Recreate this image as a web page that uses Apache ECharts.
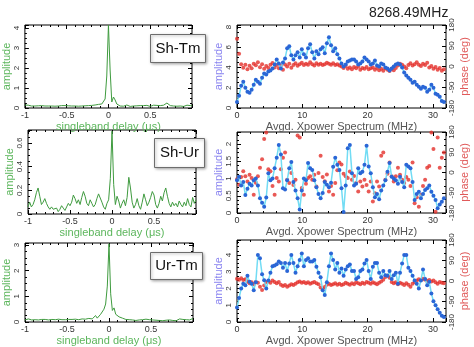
<!DOCTYPE html>
<html><head><meta charset="utf-8">
<script src="https://cdn.jsdelivr.net/npm/echarts@6/dist/echarts.min.js"></script>
<style>html,body{margin:0;padding:0;background:#fff}#c{width:474px;height:347px}</style>
</head><body><div id="c"></div>
<script>
// ---------------- DATA ----------------
const title = '8268.49MHz';
const baselines = ['Sh-Tm', 'Sh-Ur', 'Ur-Tm'];
// singleband delay sampling (µs)
const delayStart = -1, delayStep = 0.02;
const delayAmpShTm = [
0.15,0.18,0.14,0.12,0.10,0.13,0.10,0.08,0.11,0.09,
0.12,0.08,0.10,0.13,0.10,0.07,0.10,0.12,0.09,0.14,
0.10,0.08,0.12,0.16,0.12,0.09,0.11,0.08,0.10,0.07,
0.10,0.12,0.09,0.13,0.10,0.14,0.11,0.15,0.12,0.09,
0.13,0.10,0.15,0.12,0.18,0.14,0.20,0.30,0.45,1.60,
4.15,1.90,0.30,0.55,0.40,0.20,0.15,0.10,0.13,0.09,
0.12,0.15,0.10,0.08,0.12,0.10,0.14,0.11,0.08,0.12,
0.16,0.12,0.09,0.13,0.10,0.08,0.11,0.14,0.10,0.13,
0.09,0.12,0.10,0.14,0.18,0.25,0.20,0.12,0.16,0.10,
0.12,0.09,0.13,0.10,0.12,0.08,0.11,0.14,0.10,0.12,
0.13];
const delayAmpShUr = [
0.06,0.10,0.06,0.08,0.12,0.18,0.22,0.15,0.08,0.10,
0.13,0.09,0.06,0.04,0.06,0.04,0.03,0.05,0.02,0.04,
0.07,0.05,0.03,0.06,0.09,0.07,0.10,0.16,0.13,0.09,
0.12,0.08,0.14,0.19,0.15,0.09,0.07,0.12,0.09,0.06,
0.08,0.13,0.17,0.16,0.10,0.06,0.04,0.09,0.12,0.30,
0.70,0.25,0.08,0.15,0.11,0.05,0.09,0.12,0.07,0.14,
0.31,0.22,0.10,0.05,0.08,0.13,0.07,0.04,0.10,0.17,
0.12,0.07,0.10,0.14,0.19,0.16,0.08,0.05,0.09,0.15,
0.11,0.18,0.22,0.15,0.09,0.06,0.10,0.07,0.09,0.06,
0.11,0.08,0.06,0.10,0.07,0.13,0.08,0.06,0.14,0.09,
0.12];
const delayAmpUrTm = [
0.08,0.05,0.12,0.14,0.08,0.04,0.09,0.13,0.08,0.05,
0.10,0.15,0.10,0.05,0.08,0.14,0.10,0.06,0.09,0.15,
0.11,0.06,0.09,0.14,0.09,0.05,0.10,0.16,0.10,0.06,
0.11,0.15,0.09,0.07,0.12,0.17,0.11,0.08,0.14,0.20,
0.12,0.17,0.25,0.15,0.22,0.30,0.35,0.50,0.70,1.40,
3.05,1.10,0.45,0.55,0.30,0.35,0.20,0.25,0.15,0.18,
0.10,0.14,0.09,0.12,0.08,0.11,0.06,0.10,0.08,0.05,
0.09,0.07,0.11,0.06,0.09,0.05,0.08,0.12,0.07,0.10,
0.06,0.09,0.05,0.10,0.07,0.04,0.08,0.11,0.06,0.09,
0.05,0.08,0.12,0.07,0.10,0.06,0.09,0.13,0.08,0.11,
0.14];
// averaged cross-power spectrum sampling (MHz)
const freqStart = 0, freqStep = 0.32;
const specAmpShTm = [
0.6,1.2,2.2,2.6,2.0,1.6,1.5,1.8,2.3,2.8,
2.6,2.4,3.0,3.4,3.3,3.6,3.7,3.9,4.3,4.8,
4.4,3.9,4.5,4.9,5.9,6.1,5.2,4.8,5.2,5.5,
5.0,5.8,5.3,5.0,5.9,6.3,5.5,4.9,5.6,5.3,
5.8,6.0,5.4,6.4,7.0,6.2,5.6,5.9,5.3,4.9,
4.4,4.1,4.3,4.6,4.7,4.8,4.8,4.6,4.3,4.4,
4.6,5.0,4.8,4.6,4.3,4.4,4.7,4.2,4.1,4.4,
4.3,4.0,3.9,3.7,3.9,4.1,4.3,4.4,4.3,4.0,
3.5,3.2,3.0,2.8,2.5,2.6,2.3,2.1,1.9,2.1,
2.0,1.6,1.8,2.3,2.0,1.4,1.3,1.1,0.7,0.6];
const specPhaseShTm = [
120,55,10,-5,8,-12,3,-8,12,5,
18,-3,10,-10,2,-6,8,15,-4,6,
-8,4,-14,9,0,12,-5,7,14,3,
10,16,6,12,8,18,10,4,14,8,
12,6,10,16,12,8,14,6,10,4,
0,-6,2,-10,-4,-12,-2,-8,0,-14,
-6,-10,-2,-12,-8,-4,-14,-6,-16,-10,
-18,-8,-14,-20,-10,-16,-6,4,12,8,
0,-8,6,14,4,10,18,8,2,12,
6,16,-4,2,-10,-2,-14,-6,-18,-12];
const specAmpShUr = [
0.95,1.05,0.80,0.90,0.52,0.70,0.85,0.80,0.95,1.00,
0.80,0.43,0.30,0.18,0.45,1.15,0.95,1.00,1.30,1.60,
1.97,1.70,0.72,0.68,0.95,1.30,1.48,0.90,0.65,0.43,
0.10,0.65,1.00,0.95,1.45,1.30,1.25,0.95,0.75,0.55,
0.43,0.58,0.90,0.82,0.75,0.88,1.34,1.60,1.40,1.25,
0.72,0.03,0.80,1.88,1.97,1.15,0.80,0.85,1.30,1.15,
1.20,1.40,1.95,1.35,1.15,0.75,0.46,0.55,0.40,0.65,
0.80,0.95,1.20,1.45,1.05,1.00,0.95,0.85,1.05,0.90,
0.75,1.40,1.35,1.30,0.90,0.38,0.55,0.62,0.43,0.55,
0.67,0.72,0.80,0.62,0.50,0.38,0.14,0.25,0.33,0.43];
const specPhaseShUr = [
-30,-54,-20,6,-17,-40,-10,-24,-99,-45,
-17,21,59,149,178,14,6,-60,-99,-24,
-40,14,66,89,-32,-47,-2,-55,-32,164,
156,-69,-99,-50,-24,-17,-32,-10,-62,-2,
74,-20,-39,-9,-84,-60,-99,-47,10,44,
36,-5,-17,-24,5,-32,-15,-47,-84,-40,
-62,-32,-55,-84,-40,-129,-92,-40,-62,74,
89,-32,-5,44,-17,-40,-17,21,-10,-32,
-47,-20,-32,-60,44,-137,-110,-152,-99,-60,
-32,21,29,178,104,-174,156,21,66,89];
const specAmpUrTm = [
0.86,1.43,2.00,2.29,2.20,2.76,2.40,2.29,1.90,2.38,
4.00,3.81,2.86,2.50,2.00,2.48,2.95,3.33,3.37,3.45,
3.62,3.52,3.24,3.52,3.05,3.50,4.00,3.52,2.95,3.33,
3.70,4.10,3.33,3.71,3.81,3.62,3.62,3.71,3.30,2.95,
2.67,1.90,1.62,2.38,3.33,4.10,3.71,3.14,3.52,2.95,
3.20,2.76,3.14,3.33,3.43,3.05,3.05,2.57,2.67,3.05,
3.14,3.50,3.71,3.05,2.57,3.30,3.52,3.52,2.95,2.67,
3.05,2.80,2.76,3.05,2.57,2.80,2.95,2.29,2.95,3.50,
4.00,4.00,3.24,3.05,2.76,2.48,2.29,2.00,2.48,3.14,
2.57,2.20,2.40,1.71,1.24,1.00,0.76,0.55,0.38,0.30];
const specPhaseUrTm = [
10,6,12,4,8,-2,-10,-6,-14,-4,
-8,-25,-39,-20,-6,-2,-8,2,-4,-10,
-4,-16,-22,-18,-25,-20,-14,-18,-12,-6,
-2,-8,-4,-10,-6,-12,-8,-4,-10,-14,
-28,-34,-26,-16,-12,-18,-14,-10,-16,-12,
-18,-14,-8,-12,-16,-10,-14,-6,-10,-14,
-8,-12,-4,-8,-12,-6,-10,-14,-8,-2,
6,18,24,14,-4,-10,-6,-14,-8,-12,
-18,-10,-16,-25,-12,-4,2,8,4,10,
6,0,4,-2,2,-6,-12,-4,-8,-10];
// axis ranges / ticks
const delayAmpMax = [4.15, 0.71, 3.08];
const delayAmpInterval = [1, 0.2, 1];
const specAmpMax = [8.2, 2.35, 4.9];
const specAmpInterval = [2, 0.5, 1];
const phaseMin = -180, phaseMax = 180, phaseInterval = 90;
const freqMin = 0, freqMax = 32, freqInterval = 10;

// ---------------- BUILD ----------------
const delaySets = [delayAmpShTm, delayAmpShUr, delayAmpUrTm];
const specAmpSets = [specAmpShTm, specAmpShUr, specAmpUrTm];
const specPhaseSets = [specPhaseShTm, specPhaseShUr, specPhaseUrTm];
const toPairs = (vals, start, step) => vals.map((v, i) => [+(start + i * step).toFixed(3), v]);

const FONT = 'Liberation Sans';
const GREEN = '#3f9b3f', GREEN_TXT = '#5cb65c', BLUE_TXT = '#8a84f0', RED_TXT = '#e05a5a';
const gridsL = [
  {left: 24, top: 25, width: 168, height: 83},
  {left: 28, top: 130, width: 168, height: 84},
  {left: 25, top: 243, width: 168, height: 80}];
const gridsR = [
  {left: 237, top: 25, width: 209, height: 83},
  {left: 237, top: 132, width: 209, height: 81},
  {left: 237, top: 240, width: 209, height: 85}];

const multFmt = (int) => (v) => {
  const r = v / int;
  if (Math.abs(r - Math.round(r)) > 1e-6) return '';
  return String(+v.toFixed(2));
};
const tickBase = {
  axisLine: {show: false, onZero: false},
  axisTick: {show: true, inside: true, length: 4, lineStyle: {color: '#000', width: 1}},
  minorTick: {show: true, splitNumber: 5, length: 2, lineStyle: {color: '#000'}},
  splitLine: {show: false}
};
const lbl = (extra) => Object.assign({color: '#333', fontSize: 9, fontFamily: FONT}, extra);

const grid = [], xAxis = [], yAxis = [], series = [];
const allGrids = gridsL.concat(gridsR);
allGrids.forEach((g, k) => {
  grid.push(Object.assign({show: true, borderColor: '#000', borderWidth: 1, backgroundColor: '#fff'}, g));
});

// left (delay) panels
gridsL.forEach((g, k) => {
  xAxis.push(Object.assign({}, tickBase, {
    type: 'value', gridIndex: k, position: 'bottom', min: -1, max: 1, interval: 0.5,
    axisLabel: lbl({margin: 3, showMaxLabel: false, formatter: multFmt(0.5)}),
    name: 'singleband delay (\u03bcs)', nameLocation: 'middle', nameGap: 13,
    nameTextStyle: {color: GREEN_TXT, fontSize: 11, fontFamily: FONT}
  }));
  xAxis.push(Object.assign({}, tickBase, {
    type: 'value', gridIndex: k, position: 'top', min: -1, max: 1, interval: 0.5,
    axisLabel: {show: false}
  }));
  yAxis.push(Object.assign({}, tickBase, {
    type: 'value', gridIndex: k, position: 'left', min: 0, max: delayAmpMax[k], interval: delayAmpInterval[k],
    minorTick: {show: true, splitNumber: 4, length: 2, lineStyle: {color: '#000'}},
    axisLabel: lbl({rotate: 90, margin: 4, fontSize: 8, formatter: multFmt(delayAmpInterval[k])}),
    name: 'amplitude', nameLocation: 'middle', nameGap: 11, nameRotate: 90,
    nameTextStyle: {color: GREEN_TXT, fontSize: 11, fontFamily: FONT}
  }));
  yAxis.push(Object.assign({}, tickBase, {
    type: 'value', gridIndex: k, position: 'right', min: 0, max: delayAmpMax[k], interval: delayAmpInterval[k],
    minorTick: {show: true, splitNumber: 4, length: 2, lineStyle: {color: '#000'}},
    axisLabel: {show: false}
  }));
  series.push({
    type: 'line', xAxisIndex: 2 * k, yAxisIndex: 2 * k,
    data: toPairs(delaySets[k], delayStart, delayStep),
    showSymbol: false, symbol: 'none', lineStyle: {color: GREEN, width: 1}, silent: true
  });
});

// right (spectrum) panels
gridsR.forEach((g, j) => {
  const k = j + 3;
  xAxis.push(Object.assign({}, tickBase, {
    type: 'value', gridIndex: k, position: 'bottom', min: freqMin, max: freqMax, interval: freqInterval,
    axisLabel: lbl({margin: 3, showMaxLabel: false, formatter: multFmt(freqInterval)}),
    name: 'Avgd. Xpower Spectrum (MHz)', nameLocation: 'middle', nameGap: 13,
    nameTextStyle: {color: '#555', fontSize: 11, fontFamily: FONT}
  }));
  xAxis.push(Object.assign({}, tickBase, {
    type: 'value', gridIndex: k, position: 'top', min: freqMin, max: freqMax, interval: freqInterval,
    axisLabel: {show: false}
  }));
  yAxis.push(Object.assign({}, tickBase, {
    type: 'value', gridIndex: k, position: 'left', min: 0, max: specAmpMax[j], interval: specAmpInterval[j],
    minorTick: {show: true, splitNumber: 4, length: 2, lineStyle: {color: '#000'}},
    axisLabel: lbl({rotate: 90, margin: 4, fontSize: 8, formatter: multFmt(specAmpInterval[j])}),
    name: 'amplitude', nameLocation: 'middle', nameGap: 11, nameRotate: 90,
    nameTextStyle: {color: BLUE_TXT, fontSize: 11, fontFamily: FONT}
  }));
  yAxis.push(Object.assign({}, tickBase, {
    type: 'value', gridIndex: k, position: 'right', min: phaseMin, max: phaseMax, interval: phaseInterval,
    minorTick: {show: true, splitNumber: 3, length: 2, lineStyle: {color: '#000'}},
    axisLabel: lbl({rotate: 90, margin: 2, fontSize: 8}),
    name: 'phase (deg)', nameLocation: 'middle', nameGap: 13, nameRotate: 90,
    nameTextStyle: {color: RED_TXT, fontSize: 11, fontFamily: FONT}
  }));
  series.push({
    type: 'line', xAxisIndex: 2 * k, yAxisIndex: 2 * k,
    data: toPairs(specAmpSets[j], freqStart, freqStep),
    showSymbol: true, symbol: 'circle', symbolSize: 4,
    itemStyle: {color: '#2a66d6'}, lineStyle: {color: '#72dcf4', width: 1.5}, silent: true
  });
  series.push({
    type: 'scatter', xAxisIndex: 2 * k, yAxisIndex: 2 * k + 1,
    data: toPairs(specPhaseSets[j], freqStart, freqStep),
    symbol: 'circle', symbolSize: 4, itemStyle: {color: '#e3302b'}, silent: true
  });
});

const boxes = [
  {x: 150, y: 34, w: 55, h: 28},
  {x: 154, y: 138, w: 50, h: 29},
  {x: 150, y: 252, w: 52, h: 27}];
const graphic = boxes.map((b, i) => ({
  type: 'group', left: b.x, top: b.y, z: 100, zlevel: 2,
  children: [
    {type: 'rect', shape: {x: 0, y: 0, width: b.w, height: b.h}, zlevel: 2,
     style: {fill: '#fff', stroke: '#6d6d6d', lineWidth: 1,
             shadowBlur: 3, shadowColor: 'rgba(0,0,0,0.35)', shadowOffsetX: 1, shadowOffsetY: 1}},
    {type: 'text', x: b.w / 2, y: b.h / 2, zlevel: 2, z: 101,
     style: {text: baselines[i], fill: '#111', fontSize: 15, fontFamily: 'Liberation Sans',
             align: 'center', verticalAlign: 'middle'}}
  ]
}));

const chart = echarts.init(document.getElementById('c'), null, {renderer: 'canvas'});
chart.setOption({
  animation: false,
  backgroundColor: '#fff',
  title: {text: title, left: 364, top: 1,
          textStyle: {fontSize: 14, fontWeight: 'normal', color: '#222', fontFamily: 'Liberation Sans'}},
  grid, xAxis, yAxis, series, graphic
});
</script></body></html>
